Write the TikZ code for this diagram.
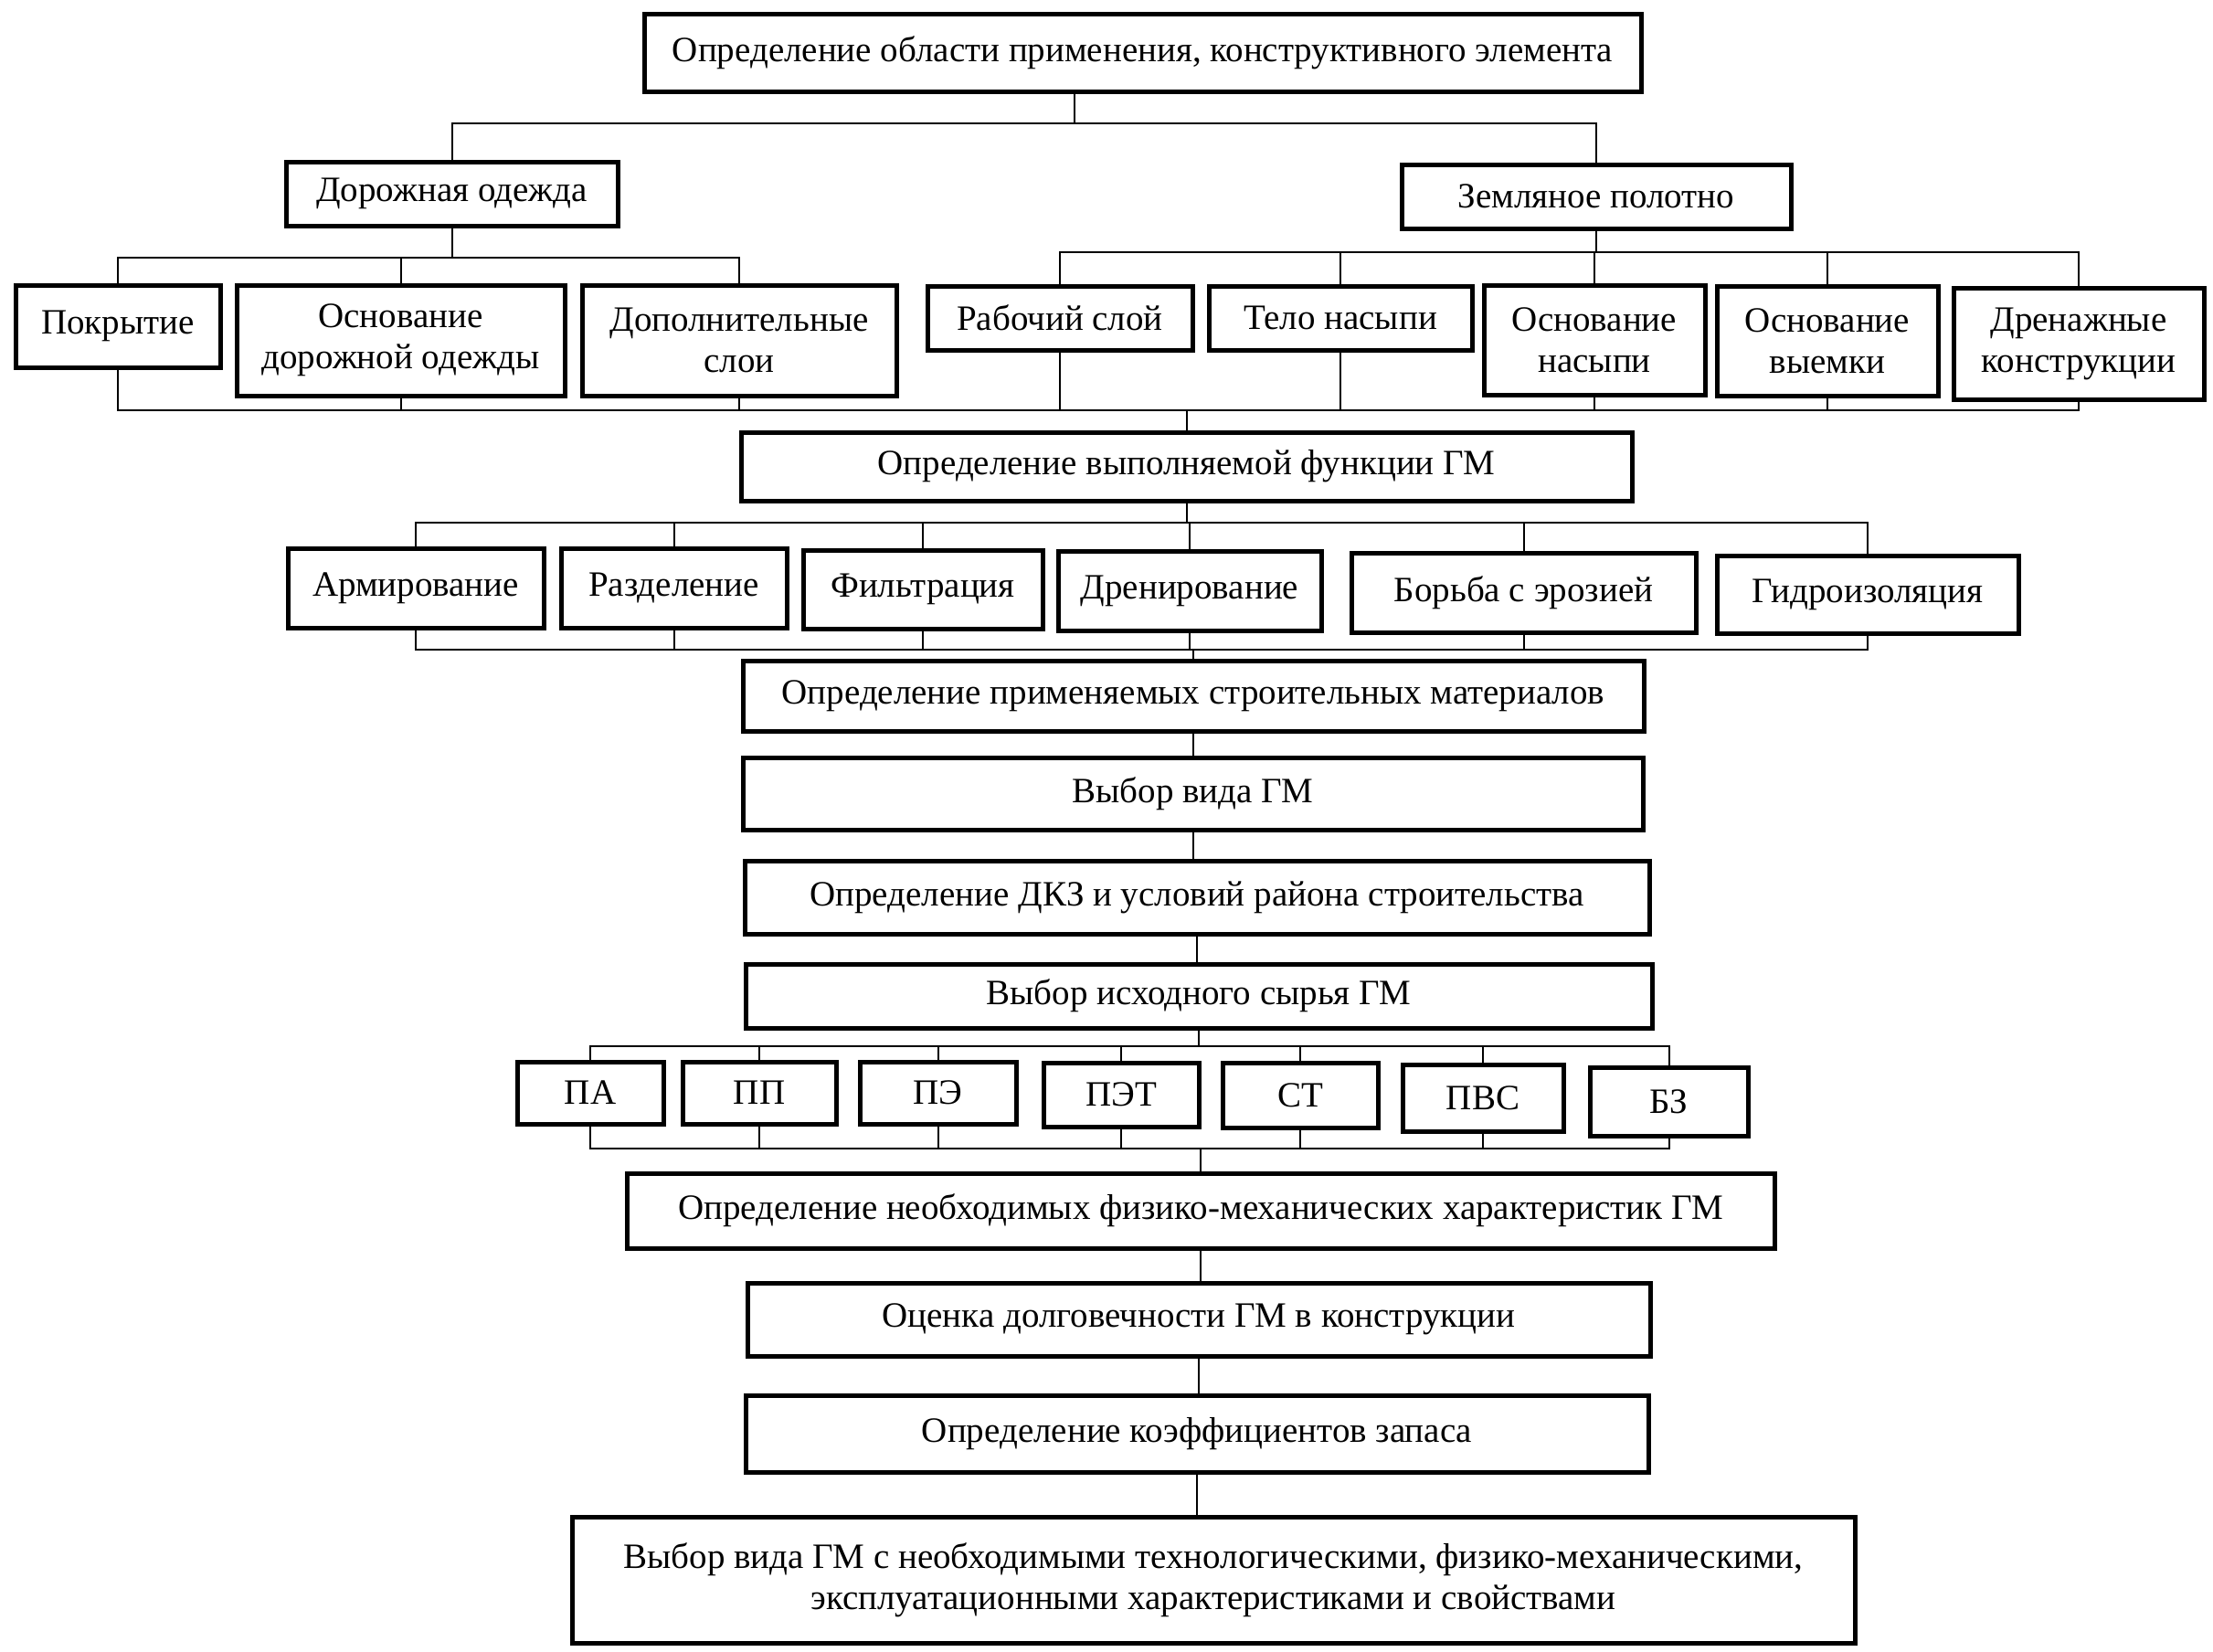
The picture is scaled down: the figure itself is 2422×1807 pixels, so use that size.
\documentclass[tikz,border=0pt]{standalone}
\usepackage{fontspec}
\setmainfont{Liberation Serif}
\begin{document}
\begin{tikzpicture}[x=1pt,y=-1pt]
\tikzset{
  box/.style={draw, line width=5pt, inner sep=0pt, align=center, fill=white,
              font=\fontsize{39}{45}\selectfont},
  conn/.style={line width=2pt}
}
\useasboundingbox[fill=white] (0,0) rectangle (2422,1807);

% level 0
\node[box, minimum width=1091pt, minimum height=85pt] (top) at (1250.5,57.5) {Определение области применения, конструктивного элемента};
% level 1
\node[box, minimum width=363pt, minimum height=70pt] (dor) at (494.5,212) {Дорожная одежда};
\node[box, minimum width=426pt, minimum height=70pt] (zem) at (1747,215) {Земляное полотно};
% level 2
\node[box, minimum width=224pt, minimum height=90pt] (pokr) at (129,357) {Покрытие};
\node[box, minimum width=359pt, minimum height=121pt] (osnd) at (438.5,372.5) {Основание\\дорожной одежды};
\node[box, minimum width=344pt, minimum height=121pt] (dop) at (809,372.5) {Дополнительные\\слои};
\node[box, minimum width=290pt, minimum height=70pt] (rab) at (1160,348) {Рабочий слой};
\node[box, minimum width=288pt, minimum height=70pt] (telo) at (1467,348) {Тело насыпи};
\node[box, minimum width=242pt, minimum height=120pt] (osnn) at (1745,372) {Основание\\насыпи};
\node[box, minimum width=242pt, minimum height=120pt] (osnv) at (2000,373) {Основание\\выемки};
\node[box, minimum width=274pt, minimum height=122pt] (dren) at (2275,376) {Дренажные\\конструкции};
% function
\node[box, minimum width=975pt, minimum height=75pt] (func) at (1298.5,510.5) {Определение выполняемой функции ГМ};
\node[box, minimum width=280pt, minimum height=87pt] (arm) at (455,643.5) {Армирование};
\node[box, minimum width=247pt, minimum height=87pt] (razd) at (737.5,643.5) {Разделение};
\node[box, minimum width=262pt, minimum height=86pt] (filt) at (1010,645) {Фильтрация};
\node[box, minimum width=288pt, minimum height=87pt] (drenir) at (1302,646.5) {Дренирование};
\node[box, minimum width=377pt, minimum height=87pt] (borba) at (1667.5,648.5) {Борьба с эрозией};
\node[box, minimum width=330pt, minimum height=85pt] (gidro) at (2044,650.5) {Гидроизоляция};
% main column
\node[box, minimum width=986pt, minimum height=77pt] (mat) at (1306,761.5) {Определение применяемых строительных материалов};
\node[box, minimum width=985pt, minimum height=79pt] (vyb) at (1305.5,868.5) {Выбор вида ГМ};
\node[box, minimum width=990pt, minimum height=80pt] (dkz) at (1310,982) {Определение ДКЗ и условий района строительства};
\node[box, minimum width=992pt, minimum height=70pt] (syr) at (1312,1090) {Выбор исходного сырья ГМ};
% raw materials
\node[box, minimum width=160pt, minimum height=68pt] (pa) at (646,1196) {ПА};
\node[box, minimum width=168pt, minimum height=68pt] (pp) at (831,1196) {ПП};
\node[box, minimum width=171pt, minimum height=68pt] (pe) at (1026.5,1196) {ПЭ};
\node[box, minimum width=170pt, minimum height=70pt] (pet) at (1227,1198) {ПЭТ};
\node[box, minimum width=170pt, minimum height=71pt] (st) at (1423,1198.5) {СТ};
\node[box, minimum width=176pt, minimum height=73pt] (pvs) at (1623,1201.5) {ПВС};
\node[box, minimum width=173pt, minimum height=75pt] (bz) at (1826.5,1205.5) {БЗ};
% lower column
\node[box, minimum width=1256pt, minimum height=82pt] (fiz) at (1314,1325) {Определение необходимых физико-механических характеристик ГМ};
\node[box, minimum width=988pt, minimum height=80pt] (dolg) at (1312,1444) {Оценка долговечности ГМ в конструкции};
\node[box, minimum width=988pt, minimum height=84pt] (koef) at (1310,1569) {Определение коэффициентов запаса};
\node[box, minimum width=1404pt, minimum height=138pt] (final) at (1328,1729) {Выбор вида ГМ с необходимыми технологическими, физико-механическими,\\эксплуатационными характеристиками и свойствами};

% bus coordinates
\coordinate (t0) at (1176,135);
\coordinate (b1) at (0,282);
\coordinate (b2) at (0,276);
\coordinate (b3) at (0,449);
\coordinate (b4) at (0,572);
\coordinate (b5) at (0,711);
\coordinate (b6) at (0,1145);
\coordinate (b7) at (0,1257);

% top split
\draw[conn] (t0 |- top.south) -- (t0);
\draw[conn] (dor.north) |- (t0) -| (zem.north);
% road pavement
\draw[conn] (dor.south) -- (dor.south |- b1);
\draw[conn] (pokr.north) |- (b1 -| dop.north) -- (dop.north);
\draw[conn] (osnd.north) -- (osnd.north |- b1);
% subgrade
\draw[conn] (zem.south) -- (zem.south |- b2);
\draw[conn] (rab.north) |- (b2 -| dren.north) -- (dren.north);
\draw[conn] (telo.north) -- (telo.north |- b2);
\draw[conn] (osnn.north) -- (osnn.north |- b2);
\draw[conn] (osnv.north) -- (osnv.north |- b2);
% collect
\draw[conn] (pokr.south) |- (b3 -| dren.south) -- (dren.south);
\draw[conn] (osnd.south) -- (osnd.south |- b3);
\draw[conn] (dop.south) -- (dop.south |- b3);
\draw[conn] (rab.south) -- (rab.south |- b3);
\draw[conn] (telo.south) -- (telo.south |- b3);
\draw[conn] (osnn.south) -- (osnn.south |- b3);
\draw[conn] (osnv.south) -- (osnv.south |- b3);
\draw[conn] (func.north) -- (func.north |- b3);
% functions
\draw[conn] (func.south) -- (func.south |- b4);
\draw[conn] (arm.north) |- (b4 -| gidro.north) -- (gidro.north);
\draw[conn] (razd.north) -- (razd.north |- b4);
\draw[conn] (filt.north) -- (filt.north |- b4);
\draw[conn] (drenir.north) -- (drenir.north |- b4);
\draw[conn] (borba.north) -- (borba.north |- b4);
\draw[conn] (arm.south) |- (b5 -| gidro.south) -- (gidro.south);
\draw[conn] (razd.south) -- (razd.south |- b5);
\draw[conn] (filt.south) -- (filt.south |- b5);
\draw[conn] (drenir.south) -- (drenir.south |- b5);
\draw[conn] (borba.south) -- (borba.south |- b5);
\draw[conn] (mat.north) -- (mat.north |- b5);
% column
\draw[conn] (mat.south) -- (mat.south |- vyb.north);
\draw[conn] (vyb.south) -- (vyb.south |- dkz.north);
\draw[conn] (dkz.south) -- (dkz.south |- syr.north);
% raw materials
\draw[conn] (syr.south) -- (syr.south |- b6);
\draw[conn] (pa.north) |- (b6 -| bz.north) -- (bz.north);
\draw[conn] (pp.north) -- (pp.north |- b6);
\draw[conn] (pe.north) -- (pe.north |- b6);
\draw[conn] (pet.north) -- (pet.north |- b6);
\draw[conn] (st.north) -- (st.north |- b6);
\draw[conn] (pvs.north) -- (pvs.north |- b6);
\draw[conn] (pa.south) |- (b7 -| bz.south) -- (bz.south);
\draw[conn] (pp.south) -- (pp.south |- b7);
\draw[conn] (pe.south) -- (pe.south |- b7);
\draw[conn] (pet.south) -- (pet.south |- b7);
\draw[conn] (st.south) -- (st.south |- b7);
\draw[conn] (pvs.south) -- (pvs.south |- b7);
\draw[conn] (fiz.north) -- (fiz.north |- b7);
% lower column
\draw[conn] (fiz.south) -- (fiz.south |- dolg.north);
\draw[conn] (dolg.south) -- (dolg.south |- koef.north);
\draw[conn] (koef.south) -- (koef.south |- final.north);
\end{tikzpicture}
\end{document}
